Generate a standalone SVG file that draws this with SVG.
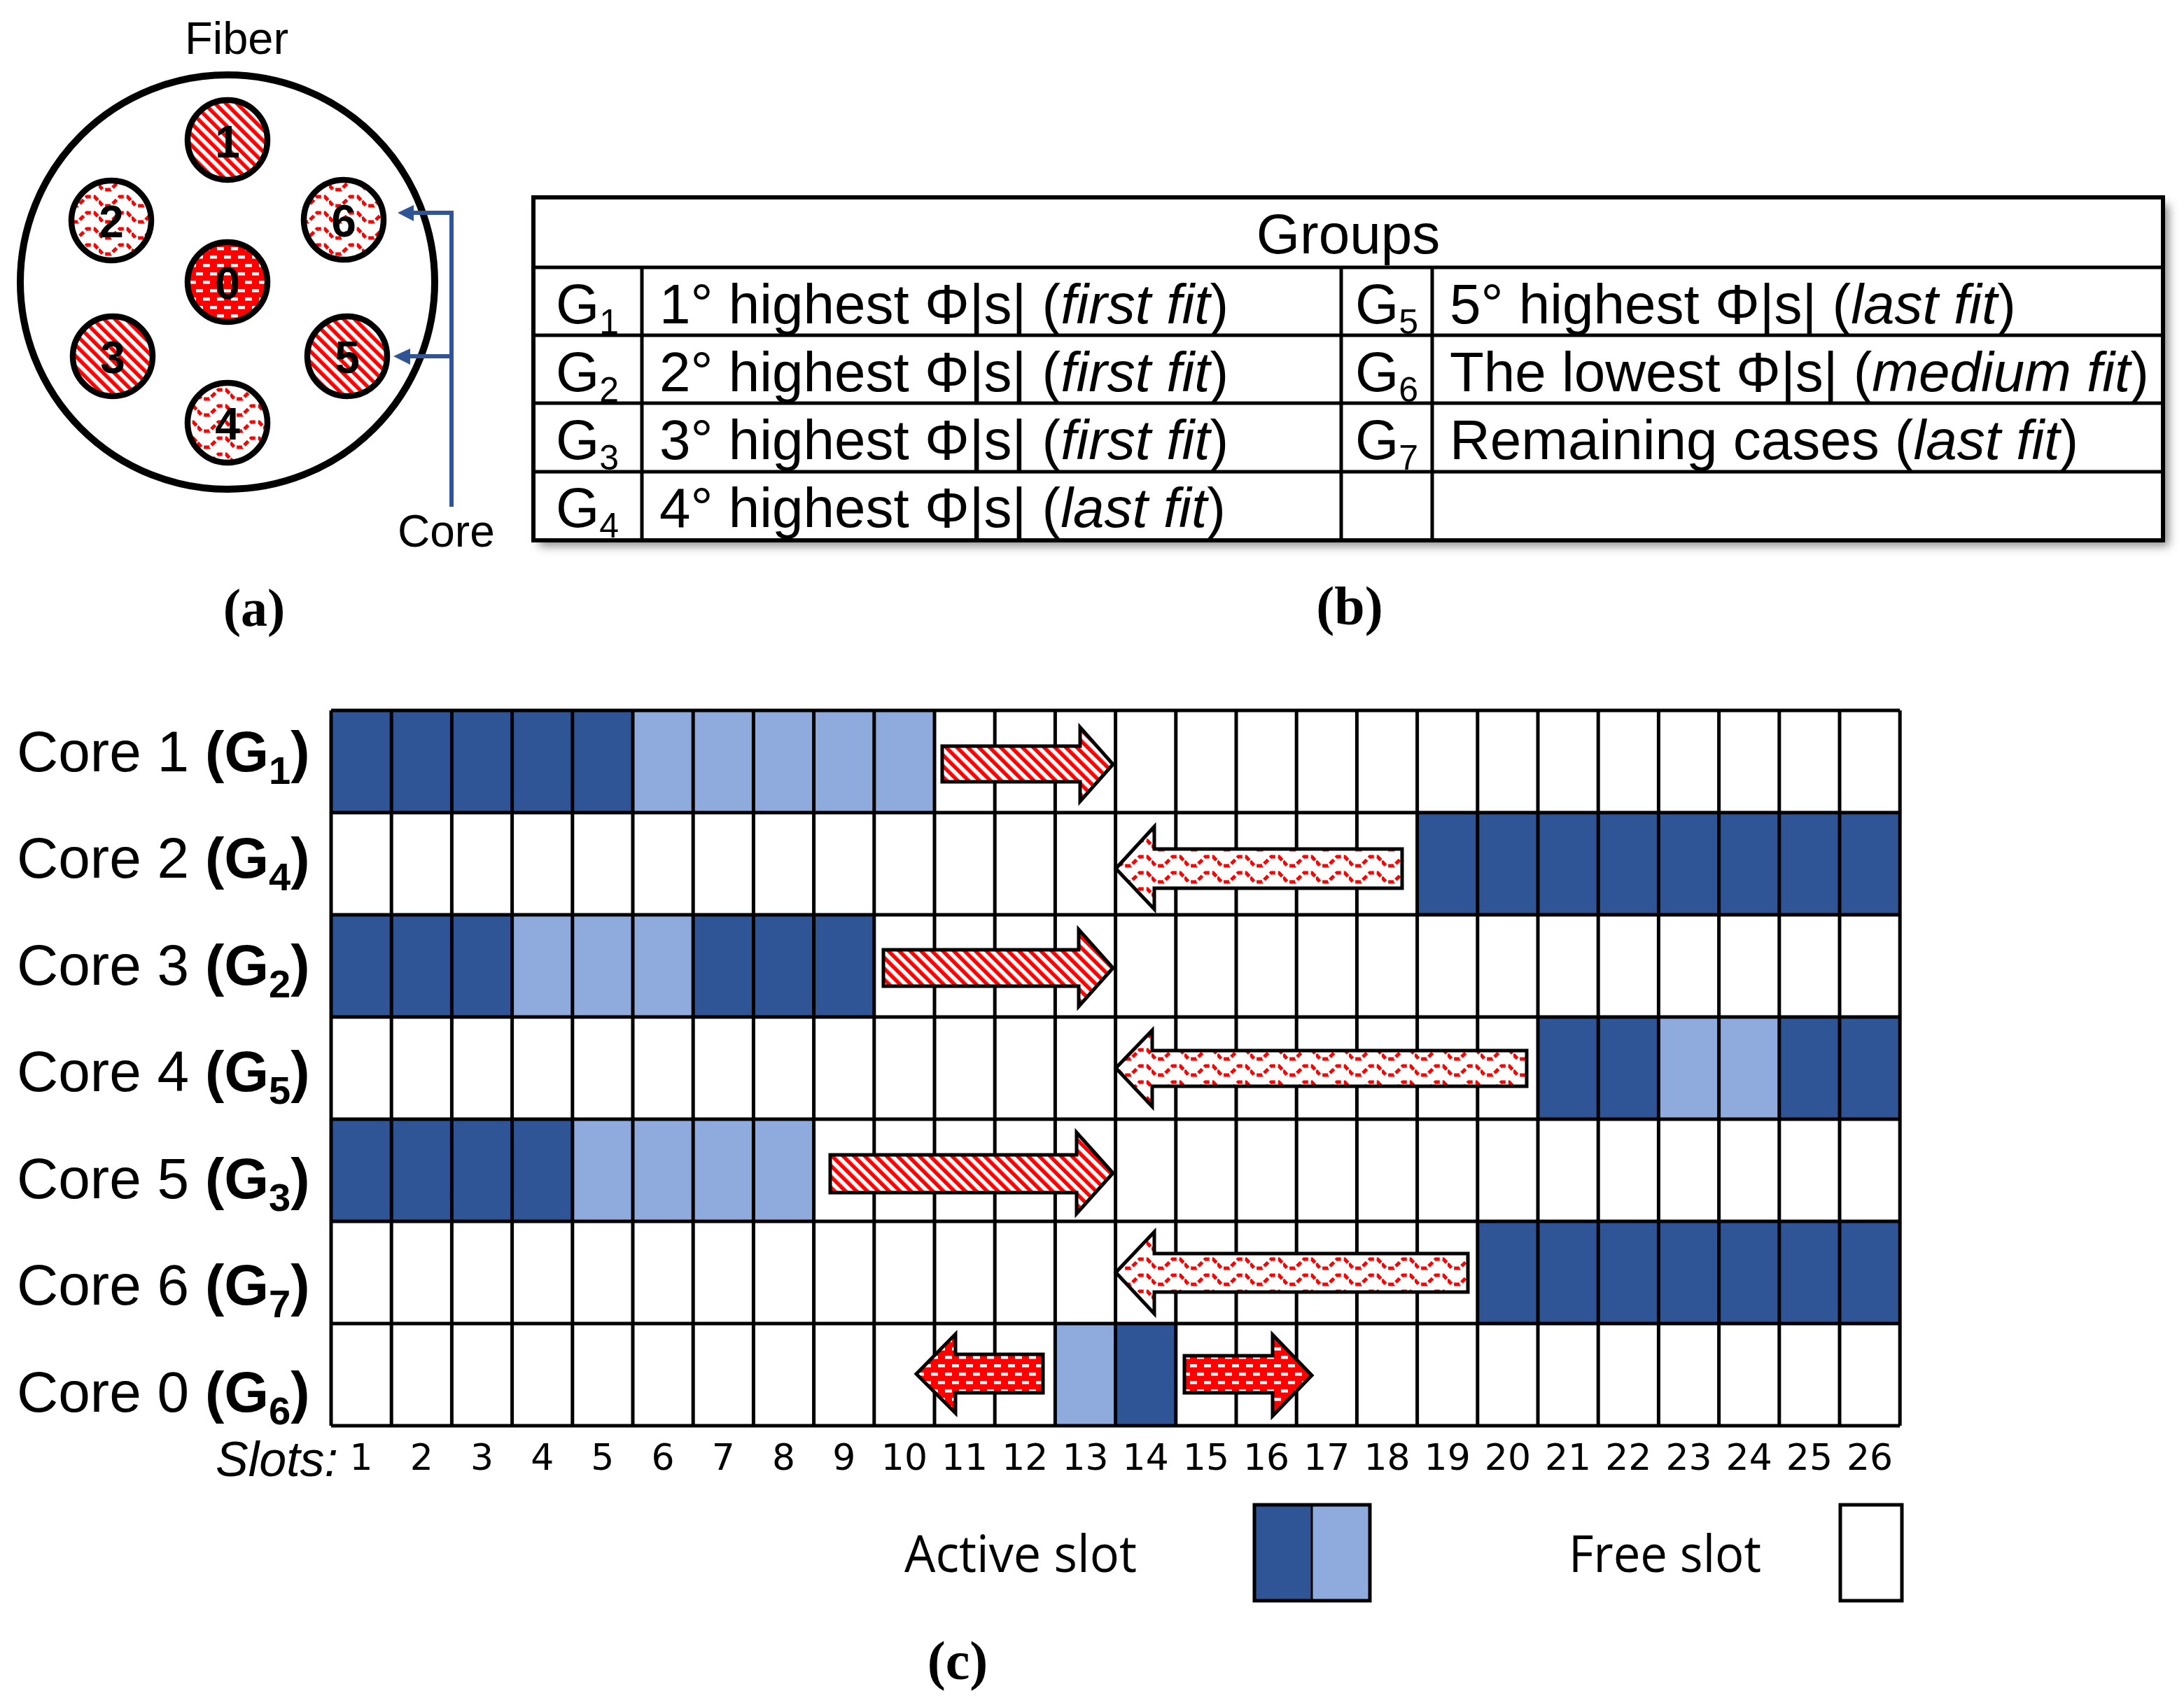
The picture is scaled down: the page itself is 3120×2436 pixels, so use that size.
<svg xmlns="http://www.w3.org/2000/svg" width="3120" height="2436" viewBox="0 0 3120 2436">
<style>
.sans{font-family:"Liberation Sans",Arial,sans-serif;fill:#000}
.serifb{font-family:"Liberation Serif","Times New Roman",serif;font-weight:bold;fill:#000}
.num{font-family:"DejaVu Sans",sans-serif;font-size:52px;fill:#000;text-anchor:middle}
.leg{font-family:"Open Sans","Noto Sans",sans-serif;font-size:74px;fill:#000}
.core{stroke:#000;stroke-width:8.5}
.cn{font-family:"Liberation Sans",Arial,sans-serif;font-weight:bold;font-size:64px;text-anchor:middle;fill:#000}
.tb{font-size:80px}
.it{font-style:italic}
.lab{font-size:82px}
.grid{stroke:#000;stroke-width:5;fill:none}
.arr{stroke:#000;stroke-width:5;stroke-linejoin:miter}
.dk{fill:#2F5597}
.lt{fill:#8FAADC}
.blue{stroke:#2F5597;stroke-width:6;fill:none}
</style>
<defs>
<pattern id="diag" width="11" height="11" patternUnits="userSpaceOnUse" patternTransform="rotate(-45)">
<rect width="11" height="11" fill="#fff"/><rect width="5.5" height="11" fill="#f00"/>
</pattern>
<pattern id="wave" width="47" height="23" patternUnits="userSpaceOnUse">
<rect width="47" height="23" fill="#fff"/>
<path d="M0,11.5 L6,18 L17,18 L23.5,11.5 L30,5 L41,5 L47,11.5" fill="none" stroke="#f00" stroke-width="5" stroke-dasharray="8 4"/>
</pattern>
<pattern id="dash" width="20" height="24" patternUnits="userSpaceOnUse">
<rect width="20" height="24" fill="#f00"/>
<rect x="0" y="5" width="10" height="4.5" fill="#fff"/>
<rect x="10" y="17" width="10" height="4.5" fill="#fff"/>
</pattern>
<filter id="sh" x="-5%" y="-10%" width="110%" height="130%"><feGaussianBlur stdDeviation="7"/></filter>
</defs>
<rect width="3120" height="2436" fill="#fff"/>

<!-- (a) fiber -->
<g id="fiber">
<text class="sans" x="264" y="77" font-size="65">Fiber</text>
<circle cx="325" cy="403" r="296" fill="#fff" stroke="#000" stroke-width="10"/>
</g>
<g id="core1"><circle class="core" cx="325" cy="200" r="57" fill="url(#diag)"/><text class="cn" x="325" y="225">1</text></g>
<g id="core2"><circle class="core" cx="159" cy="315" r="57" fill="url(#wave)"/><text class="cn" x="159" y="339">2</text></g>
<g id="core6"><circle class="core" cx="491" cy="314" r="57" fill="url(#wave)"/><text class="cn" x="491" y="338">6</text></g>
<g id="core0"><circle class="core" cx="325" cy="403" r="57" fill="url(#dash)"/><text class="cn" x="325" y="427">0</text></g>
<g id="core3"><circle class="core" cx="161" cy="509" r="57" fill="url(#diag)"/><text class="cn" x="161" y="533">3</text></g>
<g id="core5"><circle class="core" cx="496" cy="509" r="57" fill="url(#diag)"/><text class="cn" x="496" y="533">5</text></g>
<g id="core4"><circle class="core" cx="325" cy="604" r="57" fill="url(#wave)"/><text class="cn" x="325" y="628">4</text></g>
<g id="core-label">
<text class="sans" x="568" y="781" font-size="64">Core</text>
</g>
<g id="connectors-a">
<path class="blue" d="M645,724 L645,304 L588,304 M645,509 L583,509"/>
<polygon points="568,304 591,293 591,316" fill="#2F5597"/>
<polygon points="562,509 586,498 586,521" fill="#2F5597"/>
</g>
<text class="serifb" x="363" y="894" font-size="76" text-anchor="middle">(a)</text>

<!-- (b) table -->
<g id="groups-table">
<rect x="770" y="292" width="2328" height="488" fill="#8a8a8a" filter="url(#sh)"/>
<rect x="762" y="282" width="2328" height="490" fill="#fff"/>
<text class="sans tb" x="1926" y="362" text-anchor="middle">Groups</text>
<text class="sans tb" x="839" y="462" text-anchor="middle">G<tspan font-size="50" dy="15">1</tspan></text>
<text class="sans tb" x="839" y="559" text-anchor="middle">G<tspan font-size="50" dy="15">2</tspan></text>
<text class="sans tb" x="839" y="656" text-anchor="middle">G<tspan font-size="50" dy="15">3</tspan></text>
<text class="sans tb" x="839" y="753" text-anchor="middle">G<tspan font-size="50" dy="15">4</tspan></text>
<text class="sans tb" x="942" y="462">1° highest Φ|s| (<tspan class="it">first fit</tspan>)</text>
<text class="sans tb" x="942" y="559">2° highest Φ|s| (<tspan class="it">first fit</tspan>)</text>
<text class="sans tb" x="942" y="656">3° highest Φ|s| (<tspan class="it">first fit</tspan>)</text>
<text class="sans tb" x="942" y="753">4° highest Φ|s| (<tspan class="it">last fit</tspan>)</text>
<text class="sans tb" x="1981" y="462" text-anchor="middle">G<tspan font-size="50" dy="15">5</tspan></text>
<text class="sans tb" x="1981" y="559" text-anchor="middle">G<tspan font-size="50" dy="15">6</tspan></text>
<text class="sans tb" x="1981" y="656" text-anchor="middle">G<tspan font-size="50" dy="15">7</tspan></text>
<text class="sans tb" x="2071" y="462">5° highest Φ|s| (<tspan class="it">last fit</tspan>)</text>
<text class="sans tb" x="2071" y="559">The lowest Φ|s| (<tspan class="it">medium fit</tspan>)</text>
<text class="sans tb" x="2071" y="656">Remaining cases (<tspan class="it">last fit</tspan>)</text>
<path class="grid" d="M762,382 H3090 M762,479 H3090 M762,576 H3090 M762,674 H3090 M917,382 V772 M1916,382 V772 M2046,382 V772"/>
<rect x="762" y="282" width="2328" height="490" fill="none" stroke="#000" stroke-width="6"/>
</g>
<text class="serifb" x="1928" y="892" font-size="78" text-anchor="middle">(b)</text>

<!-- (c) labels -->
<g id="row-labels" class="sans lab">
<text x="24" y="1102">Core 1 <tspan font-weight="bold">(G</tspan><tspan font-weight="bold" font-size="56" dy="18">1</tspan><tspan font-weight="bold" dy="-18">)</tspan></text>
<text x="24" y="1254">Core 2 <tspan font-weight="bold">(G</tspan><tspan font-weight="bold" font-size="56" dy="18">4</tspan><tspan font-weight="bold" dy="-18">)</tspan></text>
<text x="24" y="1407">Core 3 <tspan font-weight="bold">(G</tspan><tspan font-weight="bold" font-size="56" dy="18">2</tspan><tspan font-weight="bold" dy="-18">)</tspan></text>
<text x="24" y="1559">Core 4 <tspan font-weight="bold">(G</tspan><tspan font-weight="bold" font-size="56" dy="18">5</tspan><tspan font-weight="bold" dy="-18">)</tspan></text>
<text x="24" y="1712">Core 5 <tspan font-weight="bold">(G</tspan><tspan font-weight="bold" font-size="56" dy="18">3</tspan><tspan font-weight="bold" dy="-18">)</tspan></text>
<text x="24" y="1864">Core 6 <tspan font-weight="bold">(G</tspan><tspan font-weight="bold" font-size="56" dy="18">7</tspan><tspan font-weight="bold" dy="-18">)</tspan></text>
<text x="24" y="2017">Core 0 <tspan font-weight="bold">(G</tspan><tspan font-weight="bold" font-size="56" dy="18">6</tspan><tspan font-weight="bold" dy="-18">)</tspan></text>
</g>

<!-- slot grid -->
<g id="slot-grid">
<rect x="473" y="1015" width="2241.2" height="1022" fill="#fff"/>
<rect class="dk" x="473" y="1015" width="431" height="146"/>
<rect class="lt" x="904" y="1015" width="431" height="146"/>
<rect class="dk" x="2024.6" y="1161" width="689.6" height="146"/>
<rect class="dk" x="473" y="1307" width="258.6" height="146"/>
<rect class="lt" x="731.6" y="1307" width="258.6" height="146"/>
<rect class="dk" x="990.2" y="1307" width="258.6" height="146"/>
<rect class="dk" x="2197" y="1453" width="172.4" height="146"/>
<rect class="lt" x="2369.4" y="1453" width="172.4" height="146"/>
<rect class="dk" x="2541.8" y="1453" width="172.4" height="146"/>
<rect class="dk" x="473" y="1599" width="344.8" height="146"/>
<rect class="lt" x="817.8" y="1599" width="344.8" height="146"/>
<rect class="dk" x="2110.8" y="1745" width="603.4" height="146"/>
<rect class="lt" x="1507.4" y="1891" width="86.2" height="146"/>
<rect class="dk" x="1593.6" y="1891" width="86.2" height="146"/>
<path class="grid" d="M473,1015 H2714.2 M473,1161 H2714.2 M473,1307 H2714.2 M473,1453 H2714.2 M473,1599 H2714.2 M473,1745 H2714.2 M473,1891 H2714.2 M473,2037 H2714.2
M473,1015 V2037 M559.2,1015 V2037 M645.4,1015 V2037 M731.6,1015 V2037 M817.8,1015 V2037 M904,1015 V2037 M990.2,1015 V2037 M1076.4,1015 V2037 M1162.6,1015 V2037 M1248.8,1015 V2037 M1335,1015 V2037 M1421.2,1015 V2037 M1507.4,1015 V2037 M1593.6,1015 V2037 M1679.8,1015 V2037 M1766,1015 V2037 M1852.2,1015 V2037 M1938.4,1015 V2037 M2024.6,1015 V2037 M2110.8,1015 V2037 M2197,1015 V2037 M2283.2,1015 V2037 M2369.4,1015 V2037 M2455.6,1015 V2037 M2541.8,1015 V2037 M2628,1015 V2037 M2714.2,1015 V2037"/>
</g>

<!-- arrows -->
<g id="arrows">
<path class="arr" fill="url(#diag)" d="M1346,1066 H1543 V1039 L1590,1092 L1543,1145 V1117 H1346 Z"/>
<path class="arr" fill="url(#wave)" d="M1594,1241 L1649,1181 V1213 H2003 V1269 H1649 V1299 Z"/>
<path class="arr" fill="url(#diag)" d="M1262,1357 H1541 V1328 L1590,1383 L1541,1438 V1409 H1262 Z"/>
<path class="arr" fill="url(#wave)" d="M1594,1526 L1646,1472 V1501 H2181 V1552 H1646 V1581 Z"/>
<path class="arr" fill="url(#diag)" d="M1186,1650 H1538 V1618 L1590,1676 L1538,1734 V1704 H1186 Z"/>
<path class="arr" fill="url(#wave)" d="M1594,1818 L1649,1760 V1791 H2097 V1846 H1649 V1877 Z"/>
<path class="arr" fill="url(#dash)" d="M1309,1963 L1365,1906 V1935 H1490 V1990 H1365 V2019 Z"/>
<path class="arr" fill="url(#dash)" d="M1692,1937 H1818 V1907 L1874,1965 L1818,2023 V1990 H1692 Z"/>
</g>

<!-- slot numbers -->
<g id="slot-axis">
<text class="sans it" x="308" y="2109" font-size="70">Slots:</text>
<text class="num" x="516.1" y="2100">1</text>
<text class="num" x="602.3" y="2100">2</text>
<text class="num" x="688.5" y="2100">3</text>
<text class="num" x="774.7" y="2100">4</text>
<text class="num" x="860.9" y="2100">5</text>
<text class="num" x="947.1" y="2100">6</text>
<text class="num" x="1033.3" y="2100">7</text>
<text class="num" x="1119.5" y="2100">8</text>
<text class="num" x="1205.7" y="2100">9</text>
<text class="num" x="1291.9" y="2100">10</text>
<text class="num" x="1378.1" y="2100">11</text>
<text class="num" x="1464.3" y="2100">12</text>
<text class="num" x="1550.5" y="2100">13</text>
<text class="num" x="1636.7" y="2100">14</text>
<text class="num" x="1722.9" y="2100">15</text>
<text class="num" x="1809.1" y="2100">16</text>
<text class="num" x="1895.3" y="2100">17</text>
<text class="num" x="1981.5" y="2100">18</text>
<text class="num" x="2067.7" y="2100">19</text>
<text class="num" x="2153.9" y="2100">20</text>
<text class="num" x="2240.1" y="2100">21</text>
<text class="num" x="2326.3" y="2100">22</text>
<text class="num" x="2412.5" y="2100">23</text>
<text class="num" x="2498.7" y="2100">24</text>
<text class="num" x="2584.9" y="2100">25</text>
<text class="num" x="2671.1" y="2100">26</text>
</g>

<!-- legend -->
<g id="legend-active">
<text class="leg" x="1292" y="2246" textLength="332" lengthAdjust="spacingAndGlyphs">Active slot</text>
<rect class="dk" x="1792" y="2150" width="82" height="137"/>
<rect class="lt" x="1874" y="2150" width="83" height="137"/>
<line x1="1874" y1="2150" x2="1874" y2="2287" stroke="#000" stroke-width="3"/>
<rect x="1792" y="2150" width="165" height="137" fill="none" stroke="#000" stroke-width="5"/>
</g>
<g id="legend-free">
<text class="leg" x="2241" y="2246" textLength="275" lengthAdjust="spacingAndGlyphs">Free slot</text>
<rect x="2629" y="2150" width="88" height="137" fill="#fff" stroke="#000" stroke-width="5"/>
</g>
<text class="serifb" x="1368" y="2399" font-size="78" text-anchor="middle">(c)</text>
</svg>
